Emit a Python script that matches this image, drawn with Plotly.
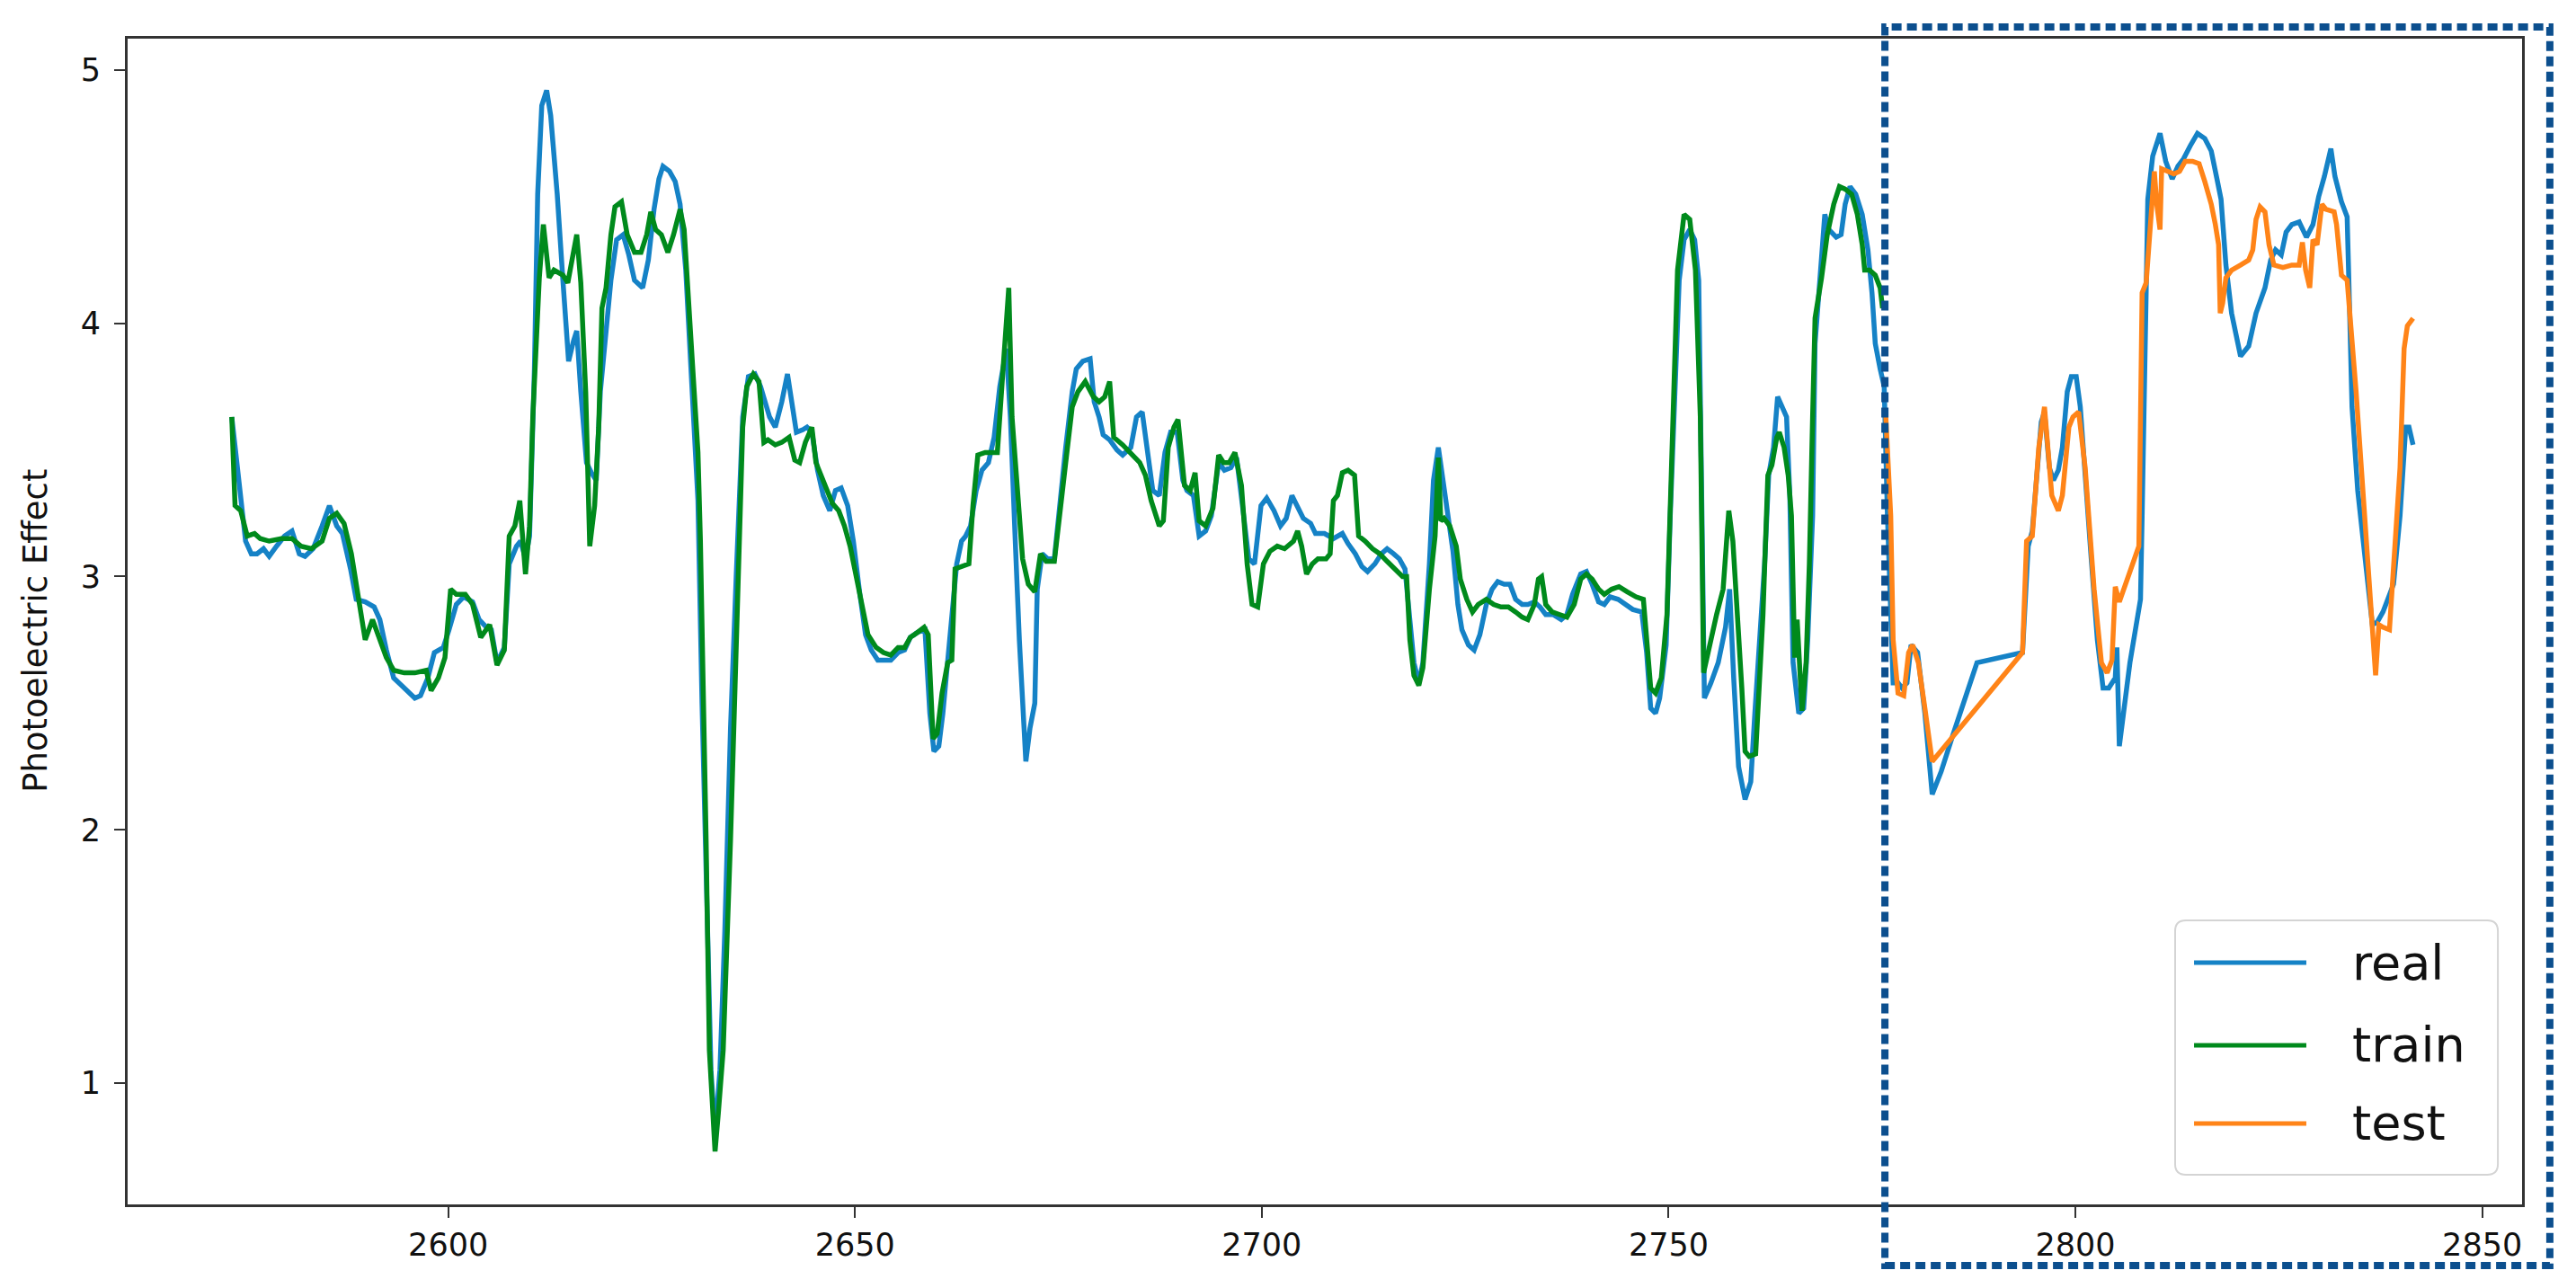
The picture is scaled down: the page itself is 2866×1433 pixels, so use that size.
import plotly.graph_objects as go

# --- data ------------------------------------------------------------------
real_x = [2573.4, 2574.3, 2575.1, 2575.8, 2576.5, 2577.3, 2578.0, 2578.9, 2579.9, 2580.8,
          2581.7, 2582.4, 2583.4, 2584.5, 2585.4, 2586.3, 2587.0, 2588.0, 2588.7, 2589.8,
          2590.9, 2591.6, 2592.4, 2593.3, 2594.2, 2595.1, 2595.9, 2596.6, 2597.5, 2598.3,
          2599.4, 2600.1, 2601.0, 2601.9, 2603.0, 2603.8, 2604.7, 2605.3, 2606.0, 2606.9,
          2607.5, 2608.4, 2608.9, 2609.5, 2610.0, 2610.6, 2611.0, 2611.5, 2612.1, 2612.6,
          2613.4, 2614.1, 2614.8, 2615.4, 2615.8, 2616.3, 2617.0, 2617.6, 2618.2, 2618.7,
          2619.3, 2620.0, 2620.7, 2621.5, 2622.2, 2622.9, 2623.9, 2624.6, 2625.3, 2625.9,
          2626.4, 2627.2, 2627.9, 2628.5, 2629.2, 2629.9, 2630.7, 2631.2, 2631.8, 2632.3,
          2632.8, 2633.4, 2634.0, 2634.7, 2635.4, 2636.2, 2636.9, 2637.7, 2638.4, 2638.9,
          2639.5, 2640.2, 2641.0, 2641.7, 2642.3, 2642.8, 2643.6, 2644.1, 2644.7, 2645.4,
          2646.1, 2646.9, 2647.6, 2648.3, 2649.1, 2649.8, 2650.6, 2651.3, 2652.0, 2652.8,
          2653.6, 2654.4, 2655.3, 2656.1, 2656.8, 2657.7, 2658.6, 2659.2, 2659.7, 2660.3,
          2660.8, 2661.4, 2661.9, 2662.5, 2663.1, 2663.6, 2664.2, 2664.9, 2665.6, 2666.4,
          2667.1, 2667.8, 2668.6, 2669.1, 2669.7, 2670.2, 2671.0, 2671.5, 2672.1, 2672.4,
          2673.0, 2673.7, 2674.5, 2675.2, 2675.9, 2676.7, 2677.2, 2678.0, 2678.9, 2679.4,
          2680.0, 2680.5, 2681.3, 2682.2, 2682.9, 2683.9, 2684.6, 2685.3, 2685.9, 2686.6,
          2687.4, 2688.1, 2688.8, 2689.6, 2690.3, 2690.8, 2691.6, 2692.3, 2693.1, 2693.8,
          2694.7, 2695.4, 2696.2, 2696.9, 2697.7, 2698.4, 2699.1, 2699.9, 2700.6, 2701.5,
          2702.3, 2703.0, 2703.7, 2704.6, 2705.1, 2706.0, 2706.6, 2707.7, 2708.8, 2709.9,
          2710.6, 2711.5, 2712.3, 2713.0, 2713.9, 2714.7, 2715.4, 2716.2, 2716.9, 2717.6,
          2718.2, 2718.7, 2719.3, 2719.8, 2720.6, 2721.1, 2721.7, 2722.2, 2722.8, 2723.5,
          2724.1, 2724.6, 2725.4, 2726.1, 2726.8, 2727.6, 2728.3, 2729.0, 2729.8, 2730.5,
          2731.2, 2732.0, 2732.7, 2733.5, 2734.2, 2734.9, 2735.8, 2736.8, 2737.5, 2738.2,
          2739.2, 2739.9, 2740.6, 2741.4, 2742.1, 2742.8, 2743.8, 2744.7, 2745.6, 2746.7,
          2747.3, 2747.8, 2748.4, 2748.9, 2749.7, 2750.2, 2750.8, 2751.3, 2751.9, 2752.6,
          2753.2, 2753.7, 2754.1, 2754.4, 2755.2, 2756.1, 2757.0, 2757.5, 2758.0, 2758.6,
          2759.4, 2760.1, 2760.6, 2761.2, 2761.8, 2762.3, 2762.9, 2763.4, 2764.0, 2764.5,
          2764.9, 2765.3, 2766.0, 2766.6, 2767.1, 2767.7, 2768.0, 2768.6, 2769.2, 2769.7,
          2770.6, 2771.2, 2771.7, 2772.3, 2773.0, 2773.8, 2774.5, 2775.0, 2775.4, 2776.0,
          2776.5, 2776.9, 2777.3, 2777.6, 2778.2, 2778.7, 2779.3, 2779.8, 2780.6, 2781.5,
          2782.4, 2783.5, 2785.0, 2786.5, 2787.9, 2793.5, 2793.8, 2794.2, 2794.7, 2795.3,
          2795.8, 2796.2, 2796.8, 2797.3, 2797.9, 2798.4, 2799.0, 2799.5, 2800.1, 2800.6,
          2801.2, 2801.9, 2802.7, 2803.4, 2804.1, 2804.9, 2805.1, 2805.4, 2806.7, 2808.0,
          2808.2, 2808.6, 2808.9, 2809.5, 2810.4, 2811.1, 2811.9, 2812.6, 2813.3, 2814.1,
          2815.0, 2815.9, 2816.7, 2817.4, 2817.9, 2818.5, 2819.2, 2820.3, 2821.3, 2822.2,
          2823.3, 2824.0, 2824.6, 2825.3, 2825.9, 2826.6, 2827.5, 2828.4, 2829.2, 2829.9,
          2830.6, 2831.4, 2831.9, 2832.7, 2833.4, 2833.6, 2834.0, 2834.7, 2835.4, 2836.5,
          2837.1, 2837.8, 2838.4, 2839.1, 2839.9, 2840.6, 2841.0, 2841.5]
real_y = [3.63, 3.38, 3.14, 3.09, 3.09, 3.11, 3.08, 3.12, 3.16, 3.18,
          3.09, 3.08, 3.11, 3.20, 3.28, 3.20, 3.17, 3.03, 2.91, 2.90,
          2.88, 2.83, 2.71, 2.60, 2.57, 2.54, 2.52, 2.53, 2.60, 2.70,
          2.72, 2.79, 2.89, 2.92, 2.90, 2.83, 2.80, 2.79, 2.66, 2.72,
          3.05, 3.12, 3.14, 3.07, 3.16, 3.82, 4.51, 4.86, 4.92, 4.82,
          4.51, 4.17, 3.85, 3.93, 3.97, 3.73, 3.45, 3.41, 3.38, 3.73,
          3.92, 4.17, 4.33, 4.35, 4.27, 4.17, 4.14, 4.25, 4.45, 4.57,
          4.62, 4.60, 4.56, 4.47, 4.21, 3.79, 3.30, 2.50, 1.60, 1.05,
          0.80, 1.05, 1.60, 2.40, 3.00, 3.63, 3.79, 3.80, 3.75, 3.69,
          3.63, 3.59, 3.69, 3.80, 3.67, 3.57, 3.58, 3.59, 3.57, 3.42,
          3.32, 3.26, 3.34, 3.35, 3.28, 3.14, 2.93, 2.77, 2.71, 2.67,
          2.67, 2.67, 2.70, 2.71, 2.76, 2.78, 2.79, 2.46, 2.31, 2.33,
          2.46, 2.66, 2.85, 3.05, 3.14, 3.16, 3.20, 3.34, 3.42, 3.45,
          3.55, 3.75, 3.90, 3.63, 3.14, 2.75, 2.27, 2.40, 2.50, 2.95,
          3.09, 3.07, 3.07, 3.30, 3.51, 3.73, 3.82, 3.85, 3.86, 3.69,
          3.63, 3.56, 3.54, 3.50, 3.48, 3.51, 3.63, 3.65, 3.51, 3.34,
          3.32, 3.49, 3.57, 3.57, 3.38, 3.34, 3.32, 3.16, 3.18, 3.24,
          3.45, 3.42, 3.43, 3.47, 3.26, 3.07, 3.05, 3.28, 3.31, 3.26,
          3.20, 3.23, 3.32, 3.26, 3.23, 3.21, 3.17, 3.17, 3.15, 3.17,
          3.13, 3.09, 3.04, 3.02, 3.05, 3.09, 3.11, 3.09, 3.07, 3.03,
          2.85, 2.66, 2.58, 2.66, 3.05, 3.38, 3.51, 3.40, 3.24, 3.10,
          2.89, 2.79, 2.73, 2.71, 2.77, 2.89, 2.95, 2.98, 2.97, 2.97,
          2.91, 2.89, 2.89, 2.90, 2.88, 2.85, 2.85, 2.83, 2.85, 2.93,
          3.01, 3.02, 2.97, 2.90, 2.89, 2.92, 2.91, 2.89, 2.87, 2.86,
          2.70, 2.48, 2.46, 2.52, 2.73, 3.24, 3.82, 4.17, 4.33, 4.37,
          4.33, 4.17, 3.24, 2.52, 2.58, 2.66, 2.80, 2.95, 2.60, 2.25,
          2.12, 2.19, 2.46, 2.75, 3.05, 3.40, 3.51, 3.71, 3.67, 3.63,
          3.32, 2.66, 2.46, 2.48, 2.75, 3.24, 3.92, 4.21, 4.43, 4.37,
          4.34, 4.35, 4.47, 4.54, 4.51, 4.43, 4.29, 4.12, 3.92, 3.82,
          3.75, 3.24, 2.85, 2.58, 2.58, 2.56, 2.58, 2.73, 2.70, 2.46,
          2.14, 2.23, 2.38, 2.52, 2.66, 2.70, 2.85, 3.12, 3.18, 3.43,
          3.61, 3.65, 3.43, 3.38, 3.42, 3.51, 3.73, 3.79, 3.79, 3.67,
          3.43, 3.09, 2.75, 2.56, 2.56, 2.60, 2.72, 2.33, 2.66, 2.91,
          3.24, 4.12, 4.49, 4.66, 4.75, 4.64, 4.57, 4.62, 4.65, 4.70,
          4.75, 4.73, 4.68, 4.57, 4.49, 4.23, 4.04, 3.87, 3.91, 4.04,
          4.14, 4.25, 4.29, 4.27, 4.36, 4.39, 4.40, 4.34, 4.39, 4.50,
          4.58, 4.69, 4.58, 4.48, 4.42, 4.18, 3.67, 3.34, 3.14, 2.81,
          2.82, 2.86, 2.91, 2.97, 3.24, 3.59, 3.59, 3.52]

train_x = [2573.4, 2573.8, 2574.5, 2575.3, 2576.2, 2576.9, 2578.0, 2579.5, 2580.8, 2581.9,
           2583.2, 2584.5, 2585.4, 2586.3, 2587.2, 2588.1, 2588.9, 2589.8, 2590.7, 2591.6,
           2592.4, 2593.3, 2594.6, 2595.9, 2597.3, 2597.9, 2598.8, 2599.6, 2600.3, 2601.0,
           2602.1, 2603.0, 2604.0, 2605.1, 2606.0, 2606.9, 2607.5, 2608.2, 2608.8, 2609.5,
           2610.0, 2610.4, 2611.2, 2611.7, 2612.4, 2613.0, 2614.1, 2614.7, 2615.2, 2615.8,
           2616.3, 2616.9, 2617.4, 2618.0, 2618.5, 2618.9, 2619.4, 2620.0, 2620.5, 2621.3,
           2622.0, 2622.9, 2623.7, 2624.4, 2624.9, 2625.5, 2626.2, 2627.0, 2627.7, 2628.5,
           2629.0, 2629.6, 2630.1, 2630.7, 2631.0, 2631.4, 2631.7, 2632.1, 2632.5, 2632.8,
           2633.2, 2633.8, 2634.7, 2635.4, 2636.0, 2636.2, 2636.7, 2637.5, 2638.2, 2638.8,
           2639.3, 2640.2, 2641.0, 2641.9, 2642.6, 2643.2, 2643.9, 2644.7, 2645.2, 2645.8,
           2646.5, 2647.2, 2648.0, 2648.7, 2649.4, 2650.2, 2650.9, 2651.6, 2652.6, 2653.5,
           2654.4, 2655.3, 2656.1, 2656.8, 2657.7, 2658.5, 2659.0, 2659.6, 2660.1, 2660.7,
           2661.4, 2661.9, 2662.3, 2663.1, 2664.0, 2664.5, 2665.1, 2666.0, 2667.5, 2668.2,
           2668.9, 2669.3, 2669.9, 2670.6, 2671.3, 2672.1, 2672.8, 2673.5, 2674.5, 2675.2,
           2675.9, 2676.7, 2677.4, 2678.3, 2679.3, 2680.0, 2680.7, 2681.3, 2681.8, 2682.9,
           2684.0, 2685.0, 2685.7, 2686.4, 2687.4, 2687.9, 2688.5, 2689.2, 2689.7, 2690.5,
           2691.2, 2691.8, 2692.3, 2693.1, 2694.0, 2694.7, 2695.3, 2696.0, 2696.7, 2697.5,
           2698.2, 2698.8, 2699.5, 2700.2, 2701.0, 2701.9, 2702.8, 2703.9, 2704.4, 2704.9,
           2705.5, 2706.2, 2706.9, 2707.9, 2708.4, 2708.8, 2709.3, 2709.9, 2710.6, 2711.4,
           2711.9, 2712.7, 2713.6, 2714.5, 2715.4, 2716.3, 2717.3, 2717.8, 2718.2, 2718.7,
           2719.3, 2719.8, 2720.6, 2721.3, 2721.7, 2722.0, 2722.4, 2723.1, 2723.9, 2724.4,
           2725.2, 2725.9, 2726.6, 2727.6, 2728.5, 2729.4, 2730.3, 2731.2, 2732.0, 2732.7,
           2733.5, 2734.0, 2734.4, 2734.9, 2735.7, 2736.6, 2737.5, 2738.4, 2739.2, 2739.9,
           2740.6, 2741.4, 2742.1, 2743.0, 2743.9, 2744.9, 2746.0, 2746.9, 2747.3, 2747.8,
           2748.4, 2749.1, 2749.8, 2750.4, 2751.1, 2751.9, 2752.6, 2753.3, 2753.9, 2754.3,
           2755.0, 2755.9, 2756.7, 2757.4, 2757.9, 2758.5, 2759.0, 2759.4, 2759.9, 2760.7,
           2761.1, 2761.6, 2762.2, 2762.7, 2763.3, 2763.6, 2764.2, 2764.7, 2765.1, 2765.5,
           2765.8, 2766.4, 2766.9, 2767.3, 2767.7, 2768.0, 2768.8, 2769.5, 2770.3, 2771.0,
           2771.7, 2772.5, 2773.2, 2773.8, 2774.1, 2774.7, 2775.4, 2776.0, 2776.3]
train_y = [3.63, 3.28, 3.26, 3.16, 3.17, 3.15, 3.14, 3.15, 3.15, 3.12,
           3.11, 3.14, 3.23, 3.25, 3.21, 3.09, 2.93, 2.75, 2.83, 2.75,
           2.68, 2.63, 2.62, 2.62, 2.63, 2.55, 2.60, 2.68, 2.95, 2.93,
           2.93, 2.89, 2.76, 2.81, 2.65, 2.71, 3.16, 3.20, 3.30, 3.01,
           3.20, 3.63, 4.18, 4.39, 4.18, 4.21, 4.19, 4.16, 4.25, 4.35,
           4.16, 3.73, 3.12, 3.28, 3.59, 4.06, 4.14, 4.35, 4.46, 4.48,
           4.35, 4.28, 4.28, 4.35, 4.44, 4.37, 4.35, 4.28, 4.35, 4.45,
           4.37, 4.06, 3.73, 3.49, 3.14, 2.56, 1.96, 1.13, 0.88, 0.73,
           0.88, 1.13, 1.96, 2.79, 3.44, 3.59, 3.75, 3.80, 3.77, 3.53,
           3.54, 3.52, 3.53, 3.55, 3.46, 3.45, 3.53, 3.59, 3.45, 3.40,
           3.34, 3.29, 3.26, 3.20, 3.12, 2.99, 2.86, 2.77, 2.72, 2.70,
           2.69, 2.72, 2.72, 2.76, 2.78, 2.80, 2.77, 2.36, 2.38, 2.54,
           2.66, 2.67, 3.03, 3.04, 3.05, 3.28, 3.48, 3.49, 3.49, 3.82,
           4.14, 3.63, 3.34, 3.07, 2.97, 2.94, 3.09, 3.06, 3.06, 3.24,
           3.45, 3.67, 3.73, 3.77, 3.71, 3.69, 3.71, 3.77, 3.55, 3.52,
           3.48, 3.45, 3.40, 3.30, 3.20, 3.22, 3.51, 3.59, 3.62, 3.36,
           3.34, 3.41, 3.22, 3.20, 3.27, 3.48, 3.45, 3.45, 3.49, 3.36,
           3.05, 2.89, 2.88, 3.05, 3.10, 3.12, 3.11, 3.14, 3.18, 3.12,
           3.01, 3.05, 3.07, 3.07, 3.09, 3.30, 3.32, 3.41, 3.42, 3.40,
           3.16, 3.14, 3.11, 3.09, 3.06, 3.03, 3.00, 3.00, 2.75, 2.61,
           2.57, 2.64, 2.95, 3.16, 3.47, 3.22, 3.23, 3.20, 3.12, 2.99,
           2.91, 2.86, 2.89, 2.91, 2.89, 2.88, 2.88, 2.86, 2.84, 2.83,
           2.89, 2.99, 3.00, 2.89, 2.86, 2.85, 2.84, 2.89, 2.99, 3.01,
           2.99, 2.95, 2.93, 2.95, 2.96, 2.94, 2.92, 2.91, 2.75, 2.56,
           2.54, 2.60, 2.85, 3.53, 4.21, 4.43, 4.41, 4.21, 3.63, 2.62,
           2.73, 2.85, 2.95, 3.26, 3.14, 2.85, 2.56, 2.31, 2.29, 2.30,
           2.56, 2.85, 3.40, 3.44, 3.55, 3.57, 3.51, 3.40, 3.24, 2.68,
           2.83, 2.47, 2.66, 3.05, 3.63, 4.02, 4.18, 4.35, 4.47, 4.54,
           4.53, 4.51, 4.43, 4.31, 4.21, 4.21, 4.19, 4.14, 4.06]

test_x = [2776.7, 2777.3, 2777.6, 2778.2, 2778.9, 2779.5, 2780.0, 2780.7, 2781.5, 2782.4,
          2793.5, 2794.0, 2794.7, 2795.5, 2796.2, 2796.6, 2797.1, 2797.9, 2798.4, 2799.2,
          2799.7, 2800.4, 2801.2, 2802.3, 2803.2, 2803.9, 2804.5, 2804.9, 2805.4, 2807.8,
          2808.2, 2808.7, 2809.3, 2809.7, 2810.0, 2810.4, 2810.6, 2811.3, 2812.1, 2812.8,
          2813.5, 2814.4, 2815.2, 2815.9, 2816.7, 2817.2, 2817.6, 2817.8, 2818.1, 2818.5,
          2819.2, 2820.3, 2821.3, 2821.8, 2822.2, 2822.7, 2823.3, 2823.8, 2824.4, 2825.5,
          2826.6, 2827.5, 2827.9, 2828.3, 2828.8, 2829.2, 2829.7, 2830.3, 2830.8, 2831.8,
          2832.1, 2832.7, 2833.4, 2834.5, 2835.6, 2836.4, 2836.9, 2837.3, 2837.8, 2838.6,
          2839.1, 2839.9, 2840.4, 2840.8, 2841.5]
test_y = [3.63, 3.24, 2.75, 2.54, 2.53, 2.70, 2.73, 2.66, 2.48, 2.27,
          2.70, 3.14, 3.16, 3.51, 3.67, 3.53, 3.32, 3.26, 3.32, 3.59,
          3.63, 3.65, 3.43, 2.95, 2.66, 2.62, 2.67, 2.96, 2.90, 3.12,
          4.12, 4.16, 4.43, 4.60, 4.47, 4.37, 4.61, 4.60, 4.59, 4.60,
          4.64, 4.64, 4.63, 4.56, 4.47, 4.39, 4.31, 4.04, 4.08, 4.18,
          4.21, 4.23, 4.25, 4.29, 4.41, 4.46, 4.44, 4.31, 4.23, 4.22,
          4.23, 4.23, 4.32, 4.21, 4.14, 4.33, 4.31, 4.47, 4.45, 4.44,
          4.39, 4.19, 4.17, 3.73, 3.24, 2.85, 2.61, 2.81, 2.80, 2.79,
          3.05, 3.43, 3.90, 3.99, 4.02]

series_names = ['real', 'train', 'test']
series_colors = ['#1582c6', '#008a1c', '#ff8418']
x_ticks = [2600, 2650, 2700, 2750, 2800, 2850]
y_ticks = [1, 2, 3, 4, 5]

FONT = 'DejaVu Sans'

fig = go.Figure()
for name, xs, ys, col in zip(series_names, [real_x, train_x, test_x],
                             [real_y, train_y, test_y], series_colors):
    fig.add_trace(go.Scatter(x=xs, y=ys, mode='lines', name=name,
                             line=dict(color=col, width=5.5), showlegend=False))

fig.update_layout(
    width=2850, height=1417,
    margin=dict(l=134, r=52, t=35, b=85),
    paper_bgcolor='white', plot_bgcolor='white',
    font=dict(family=FONT, color='#111111'),
)
fig.update_xaxes(range=[2560.6, 2854.9], tickvals=x_ticks, showgrid=False, zeroline=False,
                 showline=True, mirror=True, linecolor='#333333', linewidth=3,
                 ticks='outside', ticklen=12, tickwidth=2, tickcolor='#333333',
                 tickfont=dict(size=35, family=FONT, color='#111111'), automargin=False)
fig.update_yaxes(range=[0.521, 5.124], tickvals=y_ticks, showgrid=False, zeroline=False,
                 showline=True, mirror=True, linecolor='#333333', linewidth=3,
                 ticks='outside', ticklen=12, tickwidth=2, tickcolor='#333333',
                 ticklabelstandoff=8,
                 tickfont=dict(size=35, family=FONT, color='#111111'), automargin=False)

# y axis title
fig.add_annotation(text='Photoelectric Effect', xref='paper', yref='paper',
                   x=-0.0383, y=0.492, textangle=-90, showarrow=False,
                   xanchor='center', yanchor='middle',
                   font=dict(size=37, family=FONT, color='#111111'))

# dotted highlight box round the test region
fig.add_shape(type='rect', xref='paper', yref='paper',
              x0=0.7339, x1=1.0116, y0=-0.0524, y1=1.0100,
              line=dict(color='#0c4f8e', width=8, dash='11px,6px'),
              fillcolor='rgba(0,0,0,0)', layer='above')

# legend box drawn by hand so the sample lines get matplotlib's length
bx0, bx1, by0, by1 = 0.8551, 0.9899, 0.0254, 0.2436
rx, ry = 0.0045, 0.0092
box_path = (f'M {bx0 + rx},{by0} L {bx1 - rx},{by0} Q {bx1},{by0} {bx1},{by0 + ry} '
            f'L {bx1},{by1 - ry} Q {bx1},{by1} {bx1 - rx},{by1} '
            f'L {bx0 + rx},{by1} Q {bx0},{by1} {bx0},{by1 - ry} '
            f'L {bx0},{by0 + ry} Q {bx0},{by0} {bx0 + rx},{by0} Z')
fig.add_shape(type='path', path=box_path, xref='paper', yref='paper',
              line=dict(color='#d4d4d4', width=2), fillcolor='rgba(255,255,255,0.85)',
              layer='above')
row_y = [0.2074, 0.1365, 0.0694]
for name, col, ly in zip(series_names, series_colors, row_y):
    fig.add_shape(type='line', xref='paper', yref='paper', x0=0.8630, x1=0.9099,
                  y0=ly, y1=ly, line=dict(color=col, width=5), layer='above')
    fig.add_annotation(text=name, xref='paper', yref='paper', x=0.9283, y=ly,
                       xanchor='left', yanchor='middle', showarrow=False,
                       font=dict(size=54, family=FONT, color='#111111'))

fig.write_html("out.html")
